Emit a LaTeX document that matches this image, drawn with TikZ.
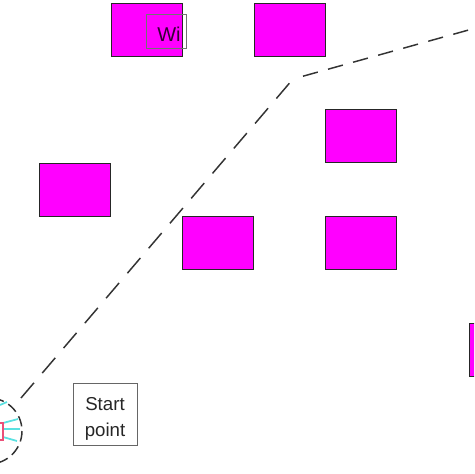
\documentclass[tikz,border=0pt]{standalone}
\usepackage{fontspec}
\setmainfont{Liberation Sans}
\usetikzlibrary{positioning,calc}
\definecolor{obstacle}{RGB}{255,0,255}
\definecolor{rangeray}{RGB}{90,225,225}
\definecolor{robotred}{RGB}{235,80,120}
\definecolor{labelgrey}{gray}{0.4}
\tikzset{
  wall/.style={draw=black!85,fill=obstacle,line width=0.7pt,minimum width=53.5pt,minimum height=39.7pt,
               inner sep=0pt,outer sep=0pt},
  label/.style={draw=labelgrey,line width=0.6pt,align=center,inner sep=0pt,outer sep=0pt,
                font=\fontsize{14}{20}\selectfont,text=black!85},
  track/.style={black!80,line width=1.1pt},
  ray/.style={rangeray,line width=1.3pt},
}
\begin{document}
\begin{tikzpicture}[x=0.75pt,y=-0.75pt]

\clip (0,0) rectangle (474,474);
\fill[white] (0,0) rectangle (474,474);

\node[wall] (w1) at (147,29.7)  {};
\node[wall] (w2) at (290,29.7)  {};
\node[wall] (w3) at (361,136.2) {};
\node[wall] (w4) at (75,189.7)  {};
\node[wall] (w5) at (218,242.7) {};
\node[wall] (w6) at (361,242.7) {};
\node[wall] (w7) at (505,350)   {};

% window caption, cut off by its frame
\node[draw=black!55,line width=0.4pt,minimum width=30pt,minimum height=25.5pt,
      inner sep=0pt] (win) at (166,31) {};
\begin{scope}
  \clip (win.south west) rectangle (win.north east);
  \node[anchor=base west,inner sep=0pt,text=black,text opacity=0.8,font=\fontsize{15}{17}\selectfont]
       (wintext) at (157,42) {Wi};
\end{scope}

\node[label,minimum width=48pt,minimum height=46.5pt] (start) at (105,414) {\rule{0pt}{17pt}Start\\point};

% sensor at the start point
\coordinate (robot) at (-11,431);
\foreach \a/\b in {3/423,3/429,3/437,0/405}
  \coordinate (s\b) at (\a,\b);
\draw[ray] (s423) -- (18,419);
\draw[ray] (s429) -- (20,429);
\draw[ray] (s437) -- (17,441);
\draw[ray] (s405) -- (7,402);
\draw[robotred,line width=1.1pt] (-5,423) rectangle (3,440);
\draw[black!80,line width=1.1pt,dash pattern=on 8pt off 4pt] (robot) circle (33);

\coordinate (from) at (21,398);
\coordinate (bend) at (293,79);
\coordinate (goal) at (474,28.5);
\draw[track,dash pattern=on 15pt off 9.6pt] (from) -- (bend);
\draw[track,dash pattern=on 11.5pt off 8pt,dash phase=11.7pt] (bend) -- (goal);

\end{tikzpicture}
\end{document}
